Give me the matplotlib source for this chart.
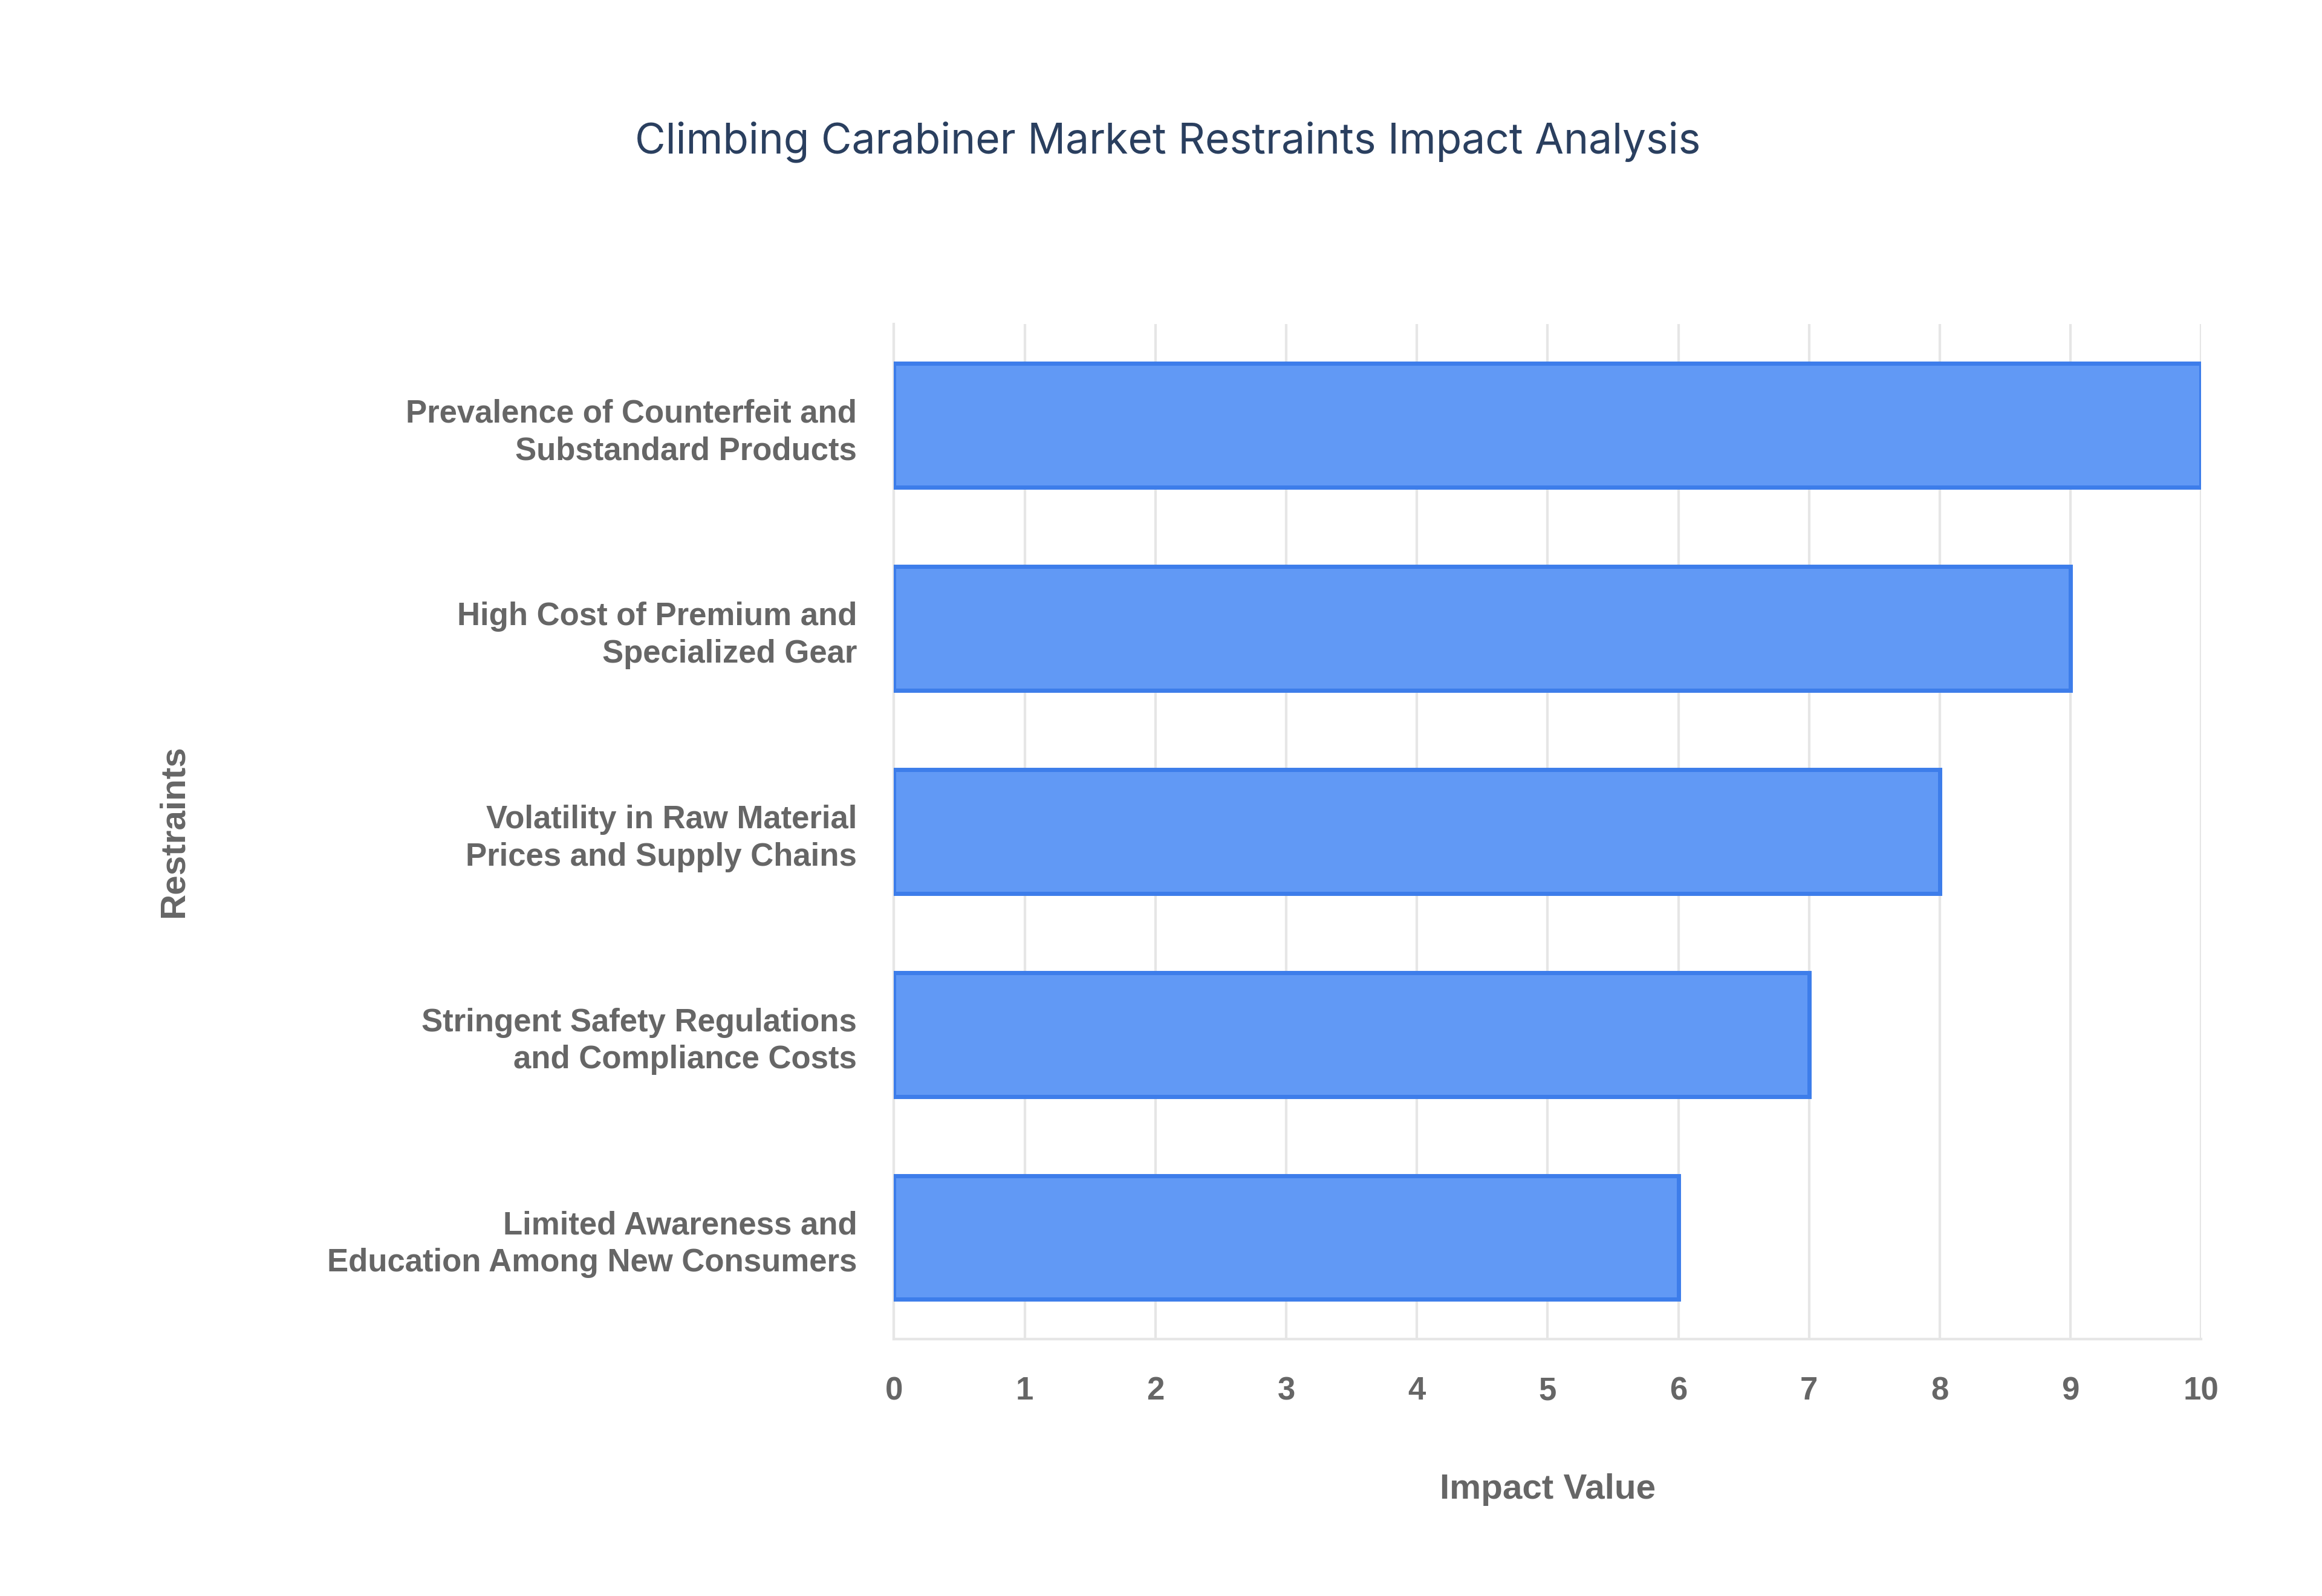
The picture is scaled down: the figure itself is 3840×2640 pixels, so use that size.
import matplotlib
matplotlib.use("Agg")
import matplotlib.pyplot as plt

categories = ["Prevalence of Counterfeit and\nSubstandard Products",
              "High Cost of Premium and\nSpecialized Gear",
              "Volatility in Raw Material\nPrices and Supply Chains",
              "Stringent Safety Regulations\nand Compliance Costs",
              "Limited Awareness and\nEducation Among New Consumers"]
values = [10, 9, 8, 7, 6]
xticks = list(range(0, 11))

fig = plt.figure(figsize=(19.2, 13.2), dpi=200)
ax = fig.add_axes([0.385, 0.161, 0.563, 0.636])
y = list(range(len(categories)))[::-1]
ax.barh(y, values, height=0.61, color="#6199F5", edgecolor="#3D7DEA", linewidth=2.5, zorder=3)
ax.set_ylim(-0.5, 4.5)
ax.set_xlim(0, 10)
ax.set_xticks(xticks)
ax.set_yticks(y)
ax.set_yticklabels(categories, fontsize=19, fontweight="bold", color="#666666",
                   family="Liberation Sans", linespacing=1.3)
ax.set_xticklabels([str(t) for t in xticks], fontsize=19, fontweight="bold", color="#666666",
                   family="Liberation Sans")
ax.tick_params(axis="both", length=0, pad=22)
ax.grid(axis="x", color="#e6e6e6", linewidth=1.5, zorder=0)
for s in ["top", "right"]:
    ax.spines[s].set_visible(False)
for s in ["left", "bottom"]:
    ax.spines[s].set_color("#e6e6e6")
    ax.spines[s].set_linewidth(1.5)
ax.set_xlabel("Impact Value", fontsize=21, fontweight="bold", color="#666666",
              family="Liberation Sans", labelpad=40)
fig.text(0.075, 0.479, "Restraints", rotation=90, fontsize=21, fontweight="bold",
         color="#666666", family="Liberation Sans", ha="center", va="center")
fig.text(0.503, 0.911, "Climbing Carabiner Market Restraints Impact Analysis", fontsize=25,
         color="#2a3f5f", family="Inter", ha="center", va="center")
fig.savefig("out.png", dpi=200, facecolor="white")
